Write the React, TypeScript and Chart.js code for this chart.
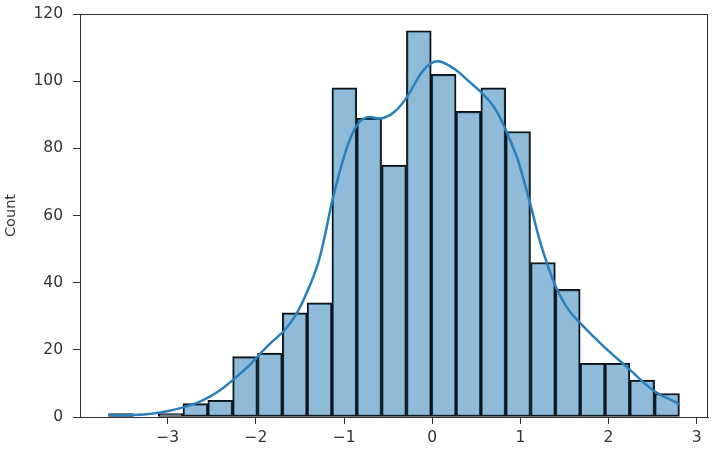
import React, { useEffect, useRef } from "react";
import { Chart, registerables } from "chart.js";

Chart.register(...registerables);

// Histogram: 23 equal-width bins between data min and max
const binStart = -3.672;
const binEnd = 2.805;
const binCounts = [1, 0, 1, 4, 5, 18, 19, 31, 34, 98, 89, 75, 115, 102, 91, 98, 85, 46, 38, 16, 16, 11, 7];

// KDE curve (scaled to counts)
const kdeX = [-3.671, -3.376, -3.182, -2.993, -2.805, -2.617, -2.428, -2.24, -2.051, -1.975, -1.825, -1.674, -1.542, -1.41, -1.296, -1.222, -1.146, -1.07, -0.995, -0.92, -0.837, -0.731, -0.58, -0.43, -0.286, -0.128, -0.015, 0.098, 0.268, 0.4, 0.551, 0.701, 0.834, 0.966, 1.023, 1.117, 1.21, 1.305, 1.399, 1.532, 1.682, 1.954, 2.229, 2.511, 2.805];
const kdeY = [0.5, 0.6, 1.0, 1.8, 3.0, 4.8, 7.6, 11.5, 16, 18.2, 22.2, 25.9, 30.6, 37.8, 45.7, 53.5, 63, 71, 78, 83.5, 87.5, 89.3, 88.9, 90.8, 95.3, 102.3, 105.3, 105.8, 103.3, 100.3, 96.8, 92.3, 85.5, 77, 72, 63, 53.5, 45.5, 39, 32.5, 27.9, 20.8, 14.4, 7.9, 3.8];

const xTicks = [-3, -2, -1, 0, 1, 2, 3];
const yTicks = [0, 20, 40, 60, 80, 100, 120];
const yTitle = "Count";

const FONT = "'DejaVu Sans', sans-serif";

export default function App() {
  const ref = useRef<HTMLCanvasElement | null>(null);

  useEffect(() => {
    document.body.style.margin = "0";
    const canvas = ref.current;
    if (!canvas) return;
    const binW = (binEnd - binStart) / binCounts.length;
    const range = binEnd - binStart;
    const xMin = binStart - 0.05 * range;
    const xMax = binEnd + 0.05 * range;

    const barData = binCounts.map((c, i) => ({
      x: binStart + binW * (i + 0.5),
      y: c === 0 ? null : c,
    }));
    const kdeData = kdeX.map((x, i) => ({ x, y: kdeY[i] }));

    const frame = {
      id: "frame",
      afterDatasetsDraw(chart: any) {
        const { ctx, chartArea } = chart;
        ctx.save();
        ctx.strokeStyle = "#333";
        ctx.lineWidth = 1;
        ctx.strokeRect(
          Math.round(chartArea.left) + 0.5,
          Math.round(chartArea.top) + 0.5,
          Math.round(chartArea.right - chartArea.left) - 1,
          Math.round(chartArea.bottom - chartArea.top)
        );
        ctx.restore();
      },
    };

    const chart = new Chart(canvas, {
      type: "bar",
      data: {
        datasets: [
          {
            type: "line",
            data: kdeData as any,
            borderColor: "#2a7fbd",
            borderWidth: 2.5,
            pointRadius: 0,
            tension: 0.4,
            order: 0,
          } as any,
          {
            type: "bar",
            data: barData as any,
            backgroundColor: "rgba(31,119,180,0.5)",
            borderColor: "#111",
            borderWidth: 1.5,
            borderSkipped: false,
            barPercentage: 1,
            categoryPercentage: 1,
            order: 1,
          } as any,
        ],
      },
      options: {
        responsive: false,
        animation: false,
        layout: { padding: { top: 14, right: 7, left: 0, bottom: 0 } },
        plugins: { legend: { display: false }, tooltip: { enabled: false } },
        scales: {
          x: {
            type: "linear",
            min: xMin,
            max: xMax,
            offset: false,
            afterBuildTicks: (s: any) => {
              s.ticks = xTicks.map((v) => ({ value: v }));
            },
            afterFit: (s: any) => {
              s.height = 37;
              s.paddingLeft = 0;
              s.paddingRight = 0;
            },
            grid: {
              drawOnChartArea: false,
              drawTicks: true,
              tickLength: 7,
              tickColor: "#333",
              offset: false,
            },
            border: { display: true, color: "#333" },
            ticks: {
              padding: 5,
              color: "#333",
              font: { family: FONT, size: 15.5 },
              maxRotation: 0,
              callback: (v: any) => String(v).replace("-", "\u2212"),
            },
          },
          y: {
            type: "linear",
            min: 0,
            max: 120,
            afterBuildTicks: (s: any) => {
              s.ticks = yTicks.map((v) => ({ value: v }));
            },
            afterFit: (s: any) => {
              s.width = 80;
              s.paddingTop = 0;
              s.paddingBottom = 0;
            },
            grid: {
              drawOnChartArea: false,
              drawTicks: true,
              tickLength: 7,
              tickColor: "#333",
            },
            border: { display: true, color: "#333" },
            ticks: {
              padding: 10,
              color: "#333",
              font: { family: FONT, size: 15.5 },
            },
            title: {
              display: true,
              text: yTitle,
              color: "#333",
              font: { family: FONT, size: 14.5 },
              padding: { top: 3, bottom: 0 },
            },
          },
        },
      },
      plugins: [frame],
    });
    return () => chart.destroy();
  }, []);

  return (
    <div style={{ width: 715, height: 454 }}>
      <canvas ref={ref} width={715} height={454} style={{ display: "block" }} />
    </div>
  );
}
